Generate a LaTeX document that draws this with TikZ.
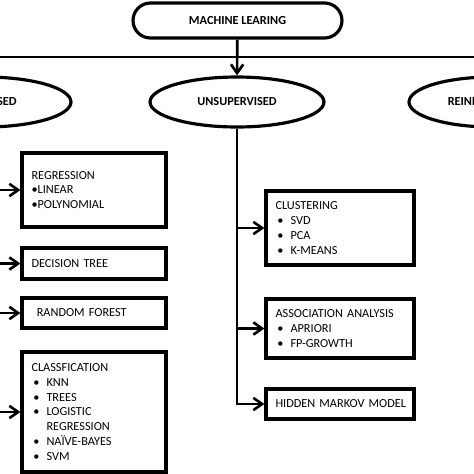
\documentclass[tikz,border=0pt]{standalone}
\usepackage{fontspec}
\setmainfont{Carlito}
\usetikzlibrary{arrows.meta}
\usetikzlibrary{shapes.geometric}
\tikzset{
	root/.style={draw, line width=1.8pt, rounded corners=0.35cm, minimum width=4.18cm, minimum height=0.7cm, font=\fontsize{7}{8.5}\selectfont\bfseries},
	branch/.style={draw, ellipse, line width=1.8pt, inner sep=0pt, minimum width=3.48cm, minimum height=1.0cm, font=\fontsize{7}{8.5}\selectfont\bfseries},
	algobox/.style={draw, line width=1.8pt, align=left, inner xsep=0.19cm, font=\fontsize{7}{8.5}\selectfont},
	leftbox/.style={algobox, minimum width=2.88cm, text width=2.5cm},
	rightbox/.style={algobox, minimum width=2.96cm, text width=2.58cm}
}
\newcommand{\bitem}[1]{\makebox[0.3cm][l]{\hspace{1pt}•}#1}

\begin{document}
\begin{tikzpicture}[x=0.02cm, y=-0.02cm, line width=1.5pt, >={Straight Barb[length=5pt,width=7pt]}]
\useasboundingbox (0,0) rectangle (474,474);
\clip (0,0) rectangle (474,474);

% top levels
\node[root] (ml) at (237.5,20.5) {MACHINE LEARING};
\coordinate (split) at (237,57);
\node[branch, minimum width=3.44cm] (sup) at (-15,102) {SUPERVISED};
\node[branch] (uns) at (237,102) {UNSUPERVISED};
\node[branch, minimum width=3.32cm] (rl) at (492,102) {REINFORCEMENT};

% supervised
\node[leftbox, minimum height=1.48cm] (reg) at (94,190) {REGRESSION\\•LINEAR\\•POLYNOMIAL};
\node[leftbox, minimum height=0.62cm] (dt) at (94,263.5) {DECISION TREE};
\node[leftbox, minimum height=0.60cm] (rf) at (94,313) {\hspace*{3pt}RANDOM FOREST};
\node[leftbox, minimum height=2.40cm] (cls) at (94,412) {CLASSFICATION\\\bitem{KNN}\\\bitem{TREES}\\\bitem{LOGISTIC}\\\hspace*{0.3cm}REGRESSION\\\bitem{NAÏVE-BAYES}\\\bitem{SVM}};

% unsupervised
\node[rightbox, minimum height=1.48cm] (clu) at (340,228) {CLUSTERING\\\bitem{SVD}\\\bitem{PCA}\\\bitem{K-MEANS}};
\node[rightbox, minimum height=1.18cm] (asc) at (340,328.5) {ASSOCIATION ANALYSIS\\\bitem{APRIORI}\\\bitem{FP-GROWTH}};
\node[rightbox, minimum height=0.60cm] (hmm) at (340,404) {\mbox{HIDDEN MARKOV MODEL}};

\draw[->] (ml) -- (uns.north);
\draw[->] (split) -| (sup.north);
\draw[->] (split) -| (rl.north);

\foreach \b in {reg, dt, rf, cls}
{
	\draw[->] (sup.south) |- (\b.west);
}
\draw[->] (uns.south) |- (hmm.west);
\foreach \b in {clu, asc}
{
	\draw[->] (uns.south |- \b.west) -- (\b.west);
}

\end{tikzpicture}
\end{document}
